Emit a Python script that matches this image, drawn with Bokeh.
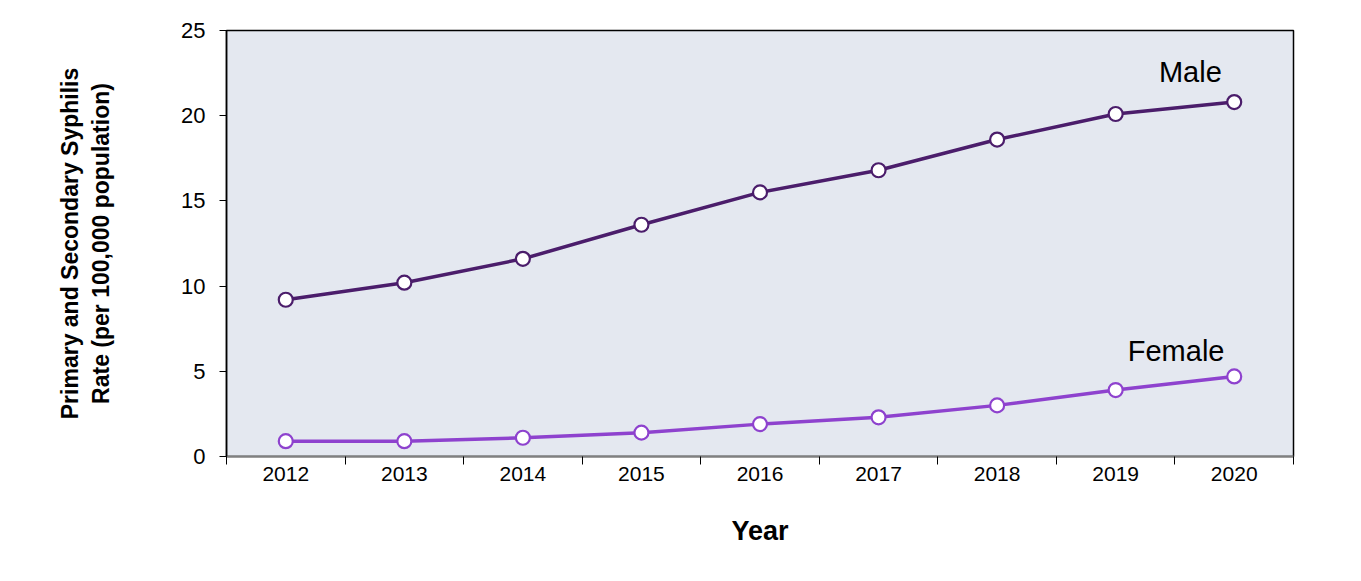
from bokeh.plotting import figure
from bokeh.models import FixedTicker, Label, Range1d
from bokeh.embed import file_html
from bokeh.resources import INLINE

years = [2012, 2013, 2014, 2015, 2016, 2017, 2018, 2019, 2020]
male = [9.2, 10.2, 11.6, 13.6, 15.5, 16.8, 18.6, 20.1, 20.8]
female = [0.9, 0.9, 1.1, 1.4, 1.9, 2.3, 3.0, 3.9, 4.7]
y_ticks = [0, 5, 10, 15, 20, 25]

MALE_C = "#4B1D6B"
FEMALE_C = "#8E42CE"
FONT = "Liberation Sans"

p = figure(width=1345, height=565, output_backend="svg", toolbar_location=None,
           x_range=Range1d(2011.5, 2020.5), y_range=Range1d(0, 25),
           min_border_left=226, min_border_right=52, min_border_top=30, min_border_bottom=109)
p.background_fill_color = "#E4E8F0"
p.border_fill_color = "white"
p.outline_line_color = "black"
p.outline_line_width = 1.5
p.grid.visible = False

p.line(years, male, line_color=MALE_C, line_width=3.5)
p.scatter(years, male, size=14, fill_color="white", line_color=MALE_C, line_width=2.2)
p.line(years, female, line_color=FEMALE_C, line_width=3.5)
p.scatter(years, female, size=14, fill_color="white", line_color=FEMALE_C, line_width=2.2)

xa = p.xaxis[0]
xa.ticker = FixedTicker(ticks=years, minor_ticks=[y - 0.5 for y in years] + [years[-1] + 0.5])
xa.major_tick_out = 0
xa.major_tick_in = 0
xa.minor_tick_out = 8
xa.minor_tick_in = 0
xa.minor_tick_line_color = "black"
xa.axis_line_color = "#808080"
xa.axis_line_width = 2
xa.major_label_text_font = FONT
xa.major_label_text_font_size = "21px"
xa.major_label_text_color = "black"
xa.major_label_standoff = 2
xa.axis_label = "Year"
xa.axis_label_text_font = FONT
xa.axis_label_text_font_style = "bold"
xa.axis_label_text_font_size = "27px"
xa.axis_label_text_color = "black"
xa.axis_label_standoff = 32

ya = p.yaxis[0]
ya.ticker = FixedTicker(ticks=y_ticks)
ya.minor_tick_line_color = None
ya.major_tick_out = 7
ya.major_tick_in = 0
ya.major_tick_line_color = "black"
ya.axis_line_color = "black"
ya.axis_line_width = 1.5
ya.major_label_text_font = FONT
ya.major_label_text_font_size = "22px"
ya.major_label_text_color = "black"
ya.major_label_standoff = 14
ya.axis_label = "Primary and Secondary Syphilis\nRate (per 100,000 population)"
ya.axis_label_text_font = FONT
ya.axis_label_text_font_style = "bold"
ya.axis_label_text_font_size = "23px"
ya.axis_label_text_color = "black"
ya.axis_label_standoff = 64

p.add_layout(Label(x=2019.63, y=22.55, text="Male", text_font=FONT, text_font_size="29px",
                   text_align="center", text_baseline="middle", text_color="black"))
p.add_layout(Label(x=2019.51, y=6.2, text="Female", text_font=FONT, text_font_size="29px",
                   text_align="center", text_baseline="middle", text_color="black"))

open("out.html", "w").write(file_html(p, INLINE))
